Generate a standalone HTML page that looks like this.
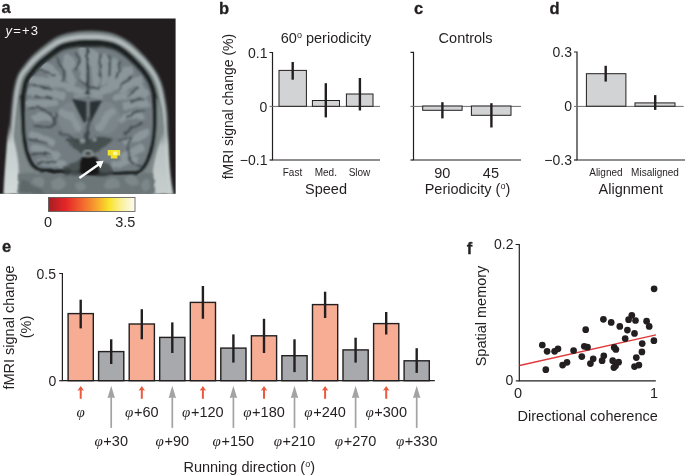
<!DOCTYPE html>
<html><head><meta charset="utf-8"><style>
html,body{margin:0;padding:0;background:#fff;width:685px;height:475px;overflow:hidden}
svg{display:block;will-change:transform}
text{font-family:"Liberation Sans",sans-serif;fill:#231f20}
.lab{font-weight:bold;font-size:16.5px;stroke:#231f20;stroke-width:0.3}
.t14{font-size:14.5px}
.t10{font-size:10px}
.tk{font-size:14px}
.deg{font-size:9px}
.yl{font-size:13px;fill:#f4f4f4}
.phi{font-family:"Liberation Serif",serif;font-style:italic;font-size:15px}
.ax{fill:none;stroke:#231f20;stroke-width:1.2}
.zl{fill:none;stroke:#6d6d6d;stroke-width:1}
.gb{fill:#d1d3d4;stroke:#231f20;stroke-width:1}
.eb2{stroke:#231f20;stroke-width:1.4}
.eb{fill:none;stroke:#231f20;stroke-width:2.4}
</style></head><body>
<svg width="685" height="475" viewBox="0 0 685 475">
<defs><clipPath id="bc"><rect x="0" y="18.6" width="175.6" height="175.1"/></clipPath><filter id="bl" x="-5%" y="-5%" width="110%" height="110%"><feGaussianBlur stdDeviation="0.9"/></filter><filter id="bl2" x="-20%" y="-20%" width="140%" height="140%"><feTurbulence type="fractalNoise" baseFrequency="0.12" numOctaves="2" seed="3" result="t"/><feDisplacementMap in="SourceGraphic" in2="t" scale="5" xChannelSelector="R" yChannelSelector="G" result="d"/><feGaussianBlur in="d" stdDeviation="1.0"/></filter><linearGradient id="cb" x1="0" x2="1"><stop offset="0" stop-color="#a81e22"/><stop offset="0.2" stop-color="#e52528"/><stop offset="0.4" stop-color="#f26a2e"/><stop offset="0.55" stop-color="#f7a12f"/><stop offset="0.7" stop-color="#f9e32a"/><stop offset="0.85" stop-color="#faf1a0"/><stop offset="1" stop-color="#fcfcf4"/></linearGradient></defs><g clip-path="url(#bc)"><rect x="0" y="18" width="176" height="176" fill="#211d1e"/><g filter="url(#bl)"><path d="M3.0 196.0C3.3 191.7 4.2 178.5 5.0 170.0C5.8 161.5 7.2 153.3 8.0 145.0C8.8 136.7 9.3 128.0 10.0 120.0C10.7 112.0 11.4 103.0 12.2 97.0C12.9 91.0 13.6 87.8 14.5 84.0C15.4 80.2 16.2 77.2 17.8 74.0C19.4 70.8 21.6 68.2 24.0 65.0C26.4 61.8 28.7 58.7 32.5 55.0C36.3 51.3 42.6 46.2 47.0 43.0C51.4 39.8 54.3 37.4 59.0 35.5C63.7 33.6 69.8 32.3 75.0 31.5C80.2 30.7 85.0 30.5 90.0 30.5C95.0 30.5 100.3 30.8 105.0 31.5C109.7 32.2 113.8 33.2 118.0 35.0C122.2 36.8 126.3 39.3 130.0 42.0C133.7 44.7 136.7 47.7 140.0 51.0C143.3 54.3 147.0 58.2 150.0 62.0C153.0 65.8 155.8 70.0 158.0 74.0C160.2 78.0 161.7 81.7 163.0 86.0C164.3 90.3 165.2 95.2 166.0 100.0C166.8 104.8 167.5 108.3 168.0 115.0C168.5 121.7 168.7 131.7 169.0 140.0C169.3 148.3 169.5 158.0 170.0 165.0C170.5 172.0 171.2 176.8 172.0 182.0C172.8 187.2 174.5 193.7 175.0 196.0Z" fill="#5c6565"/><path d="M4.6 196.1C4.9 191.8 5.8 178.7 6.6 170.2C7.4 161.7 8.8 153.5 9.6 145.2C10.4 136.8 10.9 128.1 11.6 120.1C12.3 112.1 13.0 103.2 13.8 97.2C14.5 91.2 15.1 88.1 16.1 84.4C17.0 80.6 17.7 77.8 19.2 74.7C20.8 71.6 22.9 69.1 25.3 66.0C27.6 62.9 29.8 59.8 33.6 56.1C37.4 52.5 43.6 47.5 47.9 44.2C52.3 41.0 55.0 38.8 59.6 36.9C64.1 35.0 70.2 33.8 75.2 33.0C80.3 32.2 85.1 32.0 90.0 32.0C94.9 32.0 100.2 32.3 104.8 33.0C109.3 33.7 113.4 34.7 117.4 36.4C121.5 38.1 125.5 40.6 129.1 43.3C132.7 45.9 135.6 48.8 138.9 52.1C142.2 55.4 145.8 59.2 148.8 63.0C151.7 66.8 154.5 70.8 156.6 74.8C158.7 78.7 160.2 82.2 161.5 86.5C162.8 90.7 163.6 95.5 164.4 100.3C165.2 105.0 165.9 108.5 166.4 115.1C166.9 121.8 167.1 131.7 167.4 140.1C167.7 148.4 167.9 158.1 168.4 165.1C168.9 172.1 169.6 177.1 170.4 182.3C171.3 187.5 172.9 194.0 173.4 196.3Z" fill="#7d8787"/><path d="M5.3 196.2C5.6 191.9 6.5 178.7 7.3 170.2C8.1 161.7 9.5 153.6 10.3 145.2C11.1 136.9 11.6 128.2 12.3 120.2C13.0 112.2 13.7 103.2 14.5 97.3C15.2 91.3 15.8 88.3 16.7 84.5C17.6 80.8 18.3 78.0 19.9 75.0C21.4 72.0 23.6 69.6 26.1 66.6C28.5 63.6 30.7 60.6 34.6 57.1C38.4 53.7 44.7 48.7 49.0 45.7C53.3 42.6 55.9 40.6 60.4 38.9C64.8 37.2 70.7 36.1 75.6 35.4C80.6 34.7 85.2 34.8 90.0 34.8C94.8 34.8 99.9 34.8 104.4 35.4C108.8 36.0 112.6 36.8 116.6 38.3C120.5 39.9 124.5 42.2 128.1 44.7C131.6 47.1 134.6 49.9 137.9 53.1C141.2 56.3 144.9 60.0 147.9 63.6C150.9 67.3 153.8 71.3 156.0 75.1C158.1 78.9 159.5 82.5 160.8 86.7C162.1 90.9 162.9 95.6 163.7 100.4C164.6 105.1 165.2 108.6 165.7 115.2C166.2 121.8 166.4 131.8 166.7 140.1C167.0 148.4 167.2 158.1 167.7 165.2C168.2 172.2 168.9 177.1 169.7 182.4C170.6 187.6 172.2 194.1 172.8 196.5L169.7 197.1C169.2 194.8 167.5 188.2 166.7 182.9C165.8 177.6 165.1 172.5 164.6 165.4C164.1 158.3 163.9 148.5 163.6 140.2C163.3 131.9 163.1 122.0 162.6 115.4C162.1 108.9 161.5 105.6 160.7 100.9C159.9 96.3 159.1 91.6 157.8 87.6C156.6 83.5 155.3 80.2 153.3 76.6C151.2 72.9 148.3 69.2 145.3 65.7C142.4 62.2 138.7 58.6 135.4 55.6C132.2 52.6 129.3 49.9 125.9 47.7C122.5 45.4 118.8 43.3 115.1 41.9C111.4 40.6 107.9 39.9 103.7 39.5C99.5 39.0 94.6 39.1 90.0 39.1C85.4 39.1 81.0 38.9 76.3 39.5C71.6 40.0 66.1 40.9 61.9 42.5C57.7 44.0 55.3 45.8 51.1 48.6C47.0 51.5 40.7 56.3 37.0 59.7C33.2 63.0 31.1 65.8 28.7 68.6C26.3 71.4 24.1 73.6 22.6 76.4C21.1 79.2 20.6 81.7 19.7 85.3C18.9 88.8 18.3 91.8 17.6 97.7C16.8 103.5 16.1 112.5 15.4 120.5C14.7 128.4 14.2 137.2 13.4 145.5C12.5 153.9 11.2 162.0 10.4 170.5C9.5 179.0 8.7 192.1 8.4 196.4Z" fill="#b2babb"/><path d="M11.0 196.6C11.3 192.3 12.1 179.3 13.0 170.8C13.8 162.3 15.1 154.1 16.0 145.8C16.8 137.4 17.3 128.7 18.0 120.7C18.7 112.7 19.4 103.8 20.1 98.0C20.9 92.2 21.5 89.3 22.3 85.9C23.1 82.5 23.6 80.2 25.0 77.6C26.3 74.9 28.3 72.8 30.5 70.0C32.7 67.3 34.7 64.4 38.3 61.1C41.9 57.7 48.1 52.8 52.1 49.9C56.1 47.0 58.3 45.2 62.3 43.6C66.4 42.0 71.8 41.0 76.4 40.4C81.0 39.7 85.5 39.7 90.0 39.7C94.5 39.7 99.5 39.8 103.6 40.4C107.7 41.0 111.0 41.7 114.6 43.1C118.2 44.5 121.7 46.7 124.9 49.0C128.2 51.3 131.0 53.9 134.1 56.9C137.2 60.0 140.7 63.6 143.5 67.1C146.4 70.5 149.0 74.3 151.0 77.8C152.9 81.4 154.2 84.4 155.4 88.4C156.5 92.3 157.3 96.8 158.1 101.4C158.9 105.9 159.5 109.1 160.0 115.6C160.5 122.1 160.7 132.0 161.0 140.3C161.3 148.6 161.5 158.4 162.0 165.6C162.5 172.7 163.2 177.9 164.1 183.3C165.0 188.6 166.7 195.3 167.2 197.7L162.5 198.7C162.0 196.2 160.2 189.5 159.4 184.0C158.5 178.6 157.8 173.2 157.2 165.9C156.7 158.7 156.5 148.8 156.2 140.5C155.9 132.2 155.7 122.3 155.2 116.0C154.8 109.6 154.1 106.5 153.4 102.2C152.6 97.8 151.9 93.4 150.8 89.8C149.7 86.1 148.6 83.4 146.7 80.1C144.9 76.8 142.3 73.4 139.6 70.2C136.8 66.9 133.3 63.5 130.3 60.7C127.3 57.9 124.7 55.5 121.7 53.4C118.7 51.4 115.5 49.6 112.3 48.5C109.2 47.3 106.3 46.8 102.6 46.4C98.9 45.9 94.2 46.0 90.0 46.0C85.8 46.0 81.6 45.9 77.4 46.4C73.2 46.9 68.2 47.7 64.5 49.0C60.9 50.3 59.1 51.7 55.4 54.4C51.6 57.0 45.5 61.8 42.0 64.9C38.5 68.0 36.6 70.6 34.5 73.1C32.4 75.6 30.5 77.4 29.2 79.7C28.0 82.0 27.7 83.9 26.9 87.0C26.2 90.2 25.6 92.9 24.9 98.6C24.2 104.3 23.4 113.2 22.8 121.1C22.1 129.1 21.6 137.9 20.7 146.3C19.9 154.6 18.6 162.8 17.7 171.2C16.9 179.7 16.1 192.7 15.8 197.0Z" fill="#1f2323"/><path d="M15.8 197.0C16.1 192.7 16.9 179.7 17.7 171.2C18.6 162.8 19.9 154.6 20.7 146.3C21.6 137.9 22.1 129.1 22.8 121.1C23.4 113.2 24.2 104.3 24.9 98.6C25.6 92.9 26.2 90.2 26.9 87.0C27.7 83.9 28.0 82.0 29.2 79.7C30.5 77.4 32.4 75.6 34.5 73.1C36.6 70.6 38.5 68.0 42.0 64.9C45.5 61.8 51.6 57.0 55.4 54.4C59.1 51.7 60.9 50.3 64.5 49.0C68.2 47.7 73.2 46.9 77.4 46.4C81.6 45.9 85.8 46.0 90.0 46.0C94.2 46.0 98.9 45.9 102.6 46.4C106.3 46.8 109.2 47.3 112.3 48.5C115.5 49.6 118.7 51.4 121.7 53.4C124.7 55.5 127.3 57.9 130.3 60.7C133.3 63.5 136.8 66.9 139.6 70.2C142.3 73.4 144.9 76.8 146.7 80.1C148.6 83.4 149.7 86.1 150.8 89.8C151.9 93.4 152.6 97.8 153.4 102.2C154.1 106.5 154.8 109.6 155.2 116.0C155.7 122.3 155.9 132.2 156.2 140.5C156.5 148.8 156.7 158.7 157.2 165.9C157.8 173.2 158.5 178.6 159.4 184.0C160.2 189.5 162.0 196.2 162.5 198.7L161.3 198.9C160.8 196.5 159.1 189.7 158.2 184.2C157.3 178.7 156.6 173.3 156.0 166.0C155.5 158.7 155.3 148.9 155.0 140.6C154.7 132.2 154.5 122.4 154.0 116.0C153.6 109.7 152.9 106.7 152.2 102.4C151.5 98.1 150.7 93.7 149.6 90.1C148.5 86.5 147.5 83.9 145.7 80.7C143.8 77.5 141.3 74.1 138.5 71.0C135.8 67.8 132.2 64.4 129.3 61.7C126.3 59.0 123.7 56.7 120.7 54.7C117.8 52.8 114.7 51.1 111.7 50.1C108.6 49.0 105.9 48.5 102.3 48.2C98.7 47.9 94.1 48.0 90.0 48.0C85.9 48.0 81.8 47.8 77.7 48.2C73.6 48.6 68.8 49.4 65.2 50.6C61.6 51.9 60.0 53.1 56.3 55.7C52.6 58.2 46.5 62.9 43.0 66.0C39.5 69.0 37.6 71.5 35.5 73.9C33.4 76.3 31.6 78.0 30.3 80.3C29.1 82.5 28.8 84.2 28.1 87.3C27.4 90.4 26.8 93.1 26.1 98.7C25.4 104.4 24.6 113.3 23.9 121.2C23.3 129.2 22.8 138.0 21.9 146.4C21.1 154.8 19.8 162.9 18.9 171.4C18.1 179.8 17.3 192.8 17.0 197.1Z" fill="#3c4447"/><path d="M17.0 197.1C17.3 192.8 18.1 179.8 18.9 171.4C19.8 162.9 21.1 154.8 21.9 146.4C22.8 138.0 23.3 129.2 23.9 121.2C24.6 113.3 25.4 104.4 26.1 98.7C26.8 93.1 27.4 90.4 28.1 87.3C28.8 84.2 29.1 82.5 30.3 80.3C31.6 78.0 33.4 76.3 35.5 73.9C37.6 71.5 39.5 69.0 43.0 66.0C46.5 62.9 52.6 58.2 56.3 55.7C60.0 53.1 61.6 51.9 65.2 50.6C68.8 49.4 73.6 48.6 77.7 48.2C81.8 47.8 85.9 48.0 90.0 48.0C94.1 48.0 98.7 47.9 102.3 48.2C105.9 48.5 108.6 49.0 111.7 50.1C114.7 51.1 117.8 52.8 120.7 54.7C123.7 56.7 126.3 59.0 129.3 61.7C132.2 64.4 135.8 67.8 138.5 71.0C141.3 74.1 143.8 77.5 145.7 80.7C147.5 83.9 148.5 86.5 149.6 90.1C150.7 93.7 151.5 98.1 152.2 102.4C152.9 106.7 153.6 109.7 154.0 116.0C154.5 122.4 154.7 132.2 155.0 140.6C155.3 148.9 155.5 158.7 156.0 166.0C156.6 173.3 157.3 178.7 158.2 184.2C159.1 189.7 160.8 196.5 161.3 198.9Z" fill="#727c81"/><ellipse cx="72" cy="118" rx="14" ry="16" fill="#7c868a"/><ellipse cx="106" cy="118" rx="14" ry="16" fill="#7c868a"/></g><clipPath id="brc"><path d="M16.5 197.0C16.8 192.7 17.6 179.8 18.4 171.3C19.3 162.9 20.6 154.7 21.4 146.3C22.3 138.0 22.8 129.1 23.4 121.2C24.1 113.2 24.9 104.3 25.6 98.7C26.3 93.0 26.9 90.3 27.6 87.2C28.3 84.1 28.6 82.3 29.9 80.0C31.1 77.8 33.0 76.0 35.1 73.6C37.3 71.2 39.2 68.7 42.6 65.6C46.1 62.5 52.3 57.9 56.0 55.3C59.8 52.7 61.4 51.4 65.0 50.1C68.6 48.9 73.4 48.1 77.6 47.7C81.8 47.3 85.9 47.5 90.0 47.5C94.1 47.5 98.8 47.4 102.4 47.7C106.0 48.1 108.8 48.5 111.9 49.6C115.0 50.7 118.1 52.4 121.0 54.3C124.0 56.3 126.6 58.6 129.6 61.4C132.6 64.1 136.2 67.5 138.9 70.7C141.7 73.9 144.3 77.2 146.1 80.4C148.0 83.6 149.0 86.3 150.1 90.0C151.2 93.6 152.0 98.0 152.7 102.3C153.4 106.6 154.1 109.6 154.5 116.0C155.0 122.4 155.2 132.2 155.5 140.5C155.8 148.9 156.0 158.7 156.5 166.0C157.1 173.2 157.8 178.7 158.7 184.1C159.5 189.6 161.3 196.4 161.8 198.8Z"/></clipPath><g clip-path="url(#brc)"><g filter="url(#bl2)" fill="none" stroke-linecap="round" stroke-linejoin="round"><path d="M40.0 80.0C42.5 80.5 50.0 81.7 55.0 83.0C60.0 84.3 65.5 86.5 70.0 88.0C74.5 89.5 80.0 91.3 82.0 92.0" stroke="#8b969b" stroke-width="7"/><path d="M136.0 80.0C133.3 80.7 125.0 82.3 120.0 84.0C115.0 85.7 110.3 88.5 106.0 90.0C101.7 91.5 96.0 92.5 94.0 93.0" stroke="#8b969b" stroke-width="7"/><path d="M67.0 58.0C67.3 59.3 68.5 63.3 69.0 66.0C69.5 68.7 69.5 71.0 70.0 74.0C70.5 77.0 71.7 82.3 72.0 84.0" stroke="#8b969b" stroke-width="7"/><path d="M105.0 58.0C105.0 60.0 105.2 66.0 105.0 70.0C104.8 74.0 104.2 80.0 104.0 82.0" stroke="#8b969b" stroke-width="7"/><path d="M90.0 52.0C90.5 53.7 92.2 58.7 93.0 62.0C93.8 65.3 94.5 68.2 95.0 72.0C95.5 75.8 95.8 82.8 96.0 85.0" stroke="#8b969b" stroke-width="7"/><path d="M115.0 62.0C114.7 63.8 113.7 69.3 113.0 73.0C112.3 76.7 111.3 82.2 111.0 84.0" stroke="#8b969b" stroke-width="7"/><path d="M48.0 66.0C49.7 68.0 56.3 76.0 58.0 78.0" stroke="#8b969b" stroke-width="7"/><path d="M126.0 70.0C124.7 72.0 119.3 80.0 118.0 82.0" stroke="#8b969b" stroke-width="7"/><path d="M35.0 92.0C37.5 92.3 45.5 93.3 50.0 94.0C54.5 94.7 60.0 95.7 62.0 96.0" stroke="#8b969b" stroke-width="7"/><path d="M145.0 92.0C142.5 92.5 134.8 94.0 130.0 95.0C125.2 96.0 118.3 97.5 116.0 98.0" stroke="#8b969b" stroke-width="7"/><path d="M35.0 118.0C36.7 117.7 42.2 116.0 45.0 116.0C47.8 116.0 50.8 117.7 52.0 118.0" stroke="#8b969b" stroke-width="7"/><path d="M140.0 116.0C138.3 116.0 133.0 115.3 130.0 116.0C127.0 116.7 123.3 119.3 122.0 120.0" stroke="#8b969b" stroke-width="7"/><path d="M62.0 112.0C63.7 113.0 69.3 115.3 72.0 118.0C74.7 120.7 77.0 126.3 78.0 128.0" stroke="#8b969b" stroke-width="7"/><path d="M112.0 112.0C110.7 113.3 106.0 117.3 104.0 120.0C102.0 122.7 100.7 126.7 100.0 128.0" stroke="#8b969b" stroke-width="7"/><path d="M32.0 135.0C33.7 135.5 38.7 136.8 42.0 138.0C45.3 139.2 50.3 141.3 52.0 142.0" stroke="#8b969b" stroke-width="7"/><path d="M34.0 148.0C35.7 148.3 40.3 148.7 44.0 150.0C47.7 151.3 54.0 155.0 56.0 156.0" stroke="#8b969b" stroke-width="7"/><path d="M42.0 162.0C43.7 162.0 48.7 161.7 52.0 162.0C55.3 162.3 60.3 163.7 62.0 164.0" stroke="#8b969b" stroke-width="7"/><path d="M146.0 133.0C144.3 133.8 139.3 136.5 136.0 138.0C132.7 139.5 127.7 141.3 126.0 142.0" stroke="#8b969b" stroke-width="7"/><path d="M140.0 148.0C139.0 148.7 136.7 150.7 134.0 152.0C131.3 153.3 125.7 155.3 124.0 156.0" stroke="#8b969b" stroke-width="7"/><path d="M135.0 160.0C133.3 160.3 128.3 161.3 125.0 162.0C121.7 162.7 116.7 163.7 115.0 164.0" stroke="#8b969b" stroke-width="7"/><path d="M82.0 50.0C82.2 52.5 82.8 60.0 83.0 65.0C83.2 70.0 83.0 77.5 83.0 80.0" stroke="#8b969b" stroke-width="7"/><path d="M55.0 80.0C54.0 78.3 50.8 72.8 49.0 70.0C47.2 67.2 44.8 64.2 44.0 63.0" stroke="#8b969b" stroke-width="7"/><path d="M55.0 84.0C52.8 83.5 46.2 81.8 42.0 81.0C37.8 80.2 32.0 79.3 30.0 79.0" stroke="#8b969b" stroke-width="7"/><path d="M55.0 93.0C52.8 92.8 46.2 92.3 42.0 92.0C37.8 91.7 32.0 91.2 30.0 91.0" stroke="#8b969b" stroke-width="7"/><path d="M55.0 103.0C52.8 103.0 46.2 102.8 42.0 103.0C37.8 103.2 32.0 103.8 30.0 104.0" stroke="#8b969b" stroke-width="7"/><path d="M140.0 80.0C138.5 80.8 134.0 83.3 131.0 85.0C128.0 86.7 123.5 89.2 122.0 90.0" stroke="#8b969b" stroke-width="7"/><path d="M146.0 104.0C144.3 104.0 139.3 103.7 136.0 104.0C132.7 104.3 127.7 105.7 126.0 106.0" stroke="#8b969b" stroke-width="7"/><ellipse cx="69" cy="64" rx="6.5" ry="8" transform="rotate(15 69 64)" fill="#8b969b" stroke="none"/><ellipse cx="46" cy="67" rx="6" ry="4" transform="rotate(-35 46 67)" fill="#8b969b" stroke="none"/><ellipse cx="38" cy="81" rx="6" ry="3.5" transform="rotate(-15 38 81)" fill="#8b969b" stroke="none"/><ellipse cx="36" cy="93" rx="6" ry="3" transform="rotate(-5 36 93)" fill="#8b969b" stroke="none"/><ellipse cx="94" cy="58" rx="4.5" ry="8" transform="rotate(0 94 58)" fill="#8b969b" stroke="none"/><ellipse cx="105" cy="61" rx="3.5" ry="8" transform="rotate(0 105 61)" fill="#8b969b" stroke="none"/><ellipse cx="115" cy="66" rx="4" ry="8" transform="rotate(10 115 66)" fill="#8b969b" stroke="none"/><ellipse cx="128" cy="73" rx="5" ry="6" transform="rotate(35 128 73)" fill="#8b969b" stroke="none"/><ellipse cx="139" cy="87" rx="5" ry="4" transform="rotate(20 139 87)" fill="#8b969b" stroke="none"/><ellipse cx="143" cy="100" rx="5" ry="3" transform="rotate(5 143 100)" fill="#8b969b" stroke="none"/><ellipse cx="82" cy="56" rx="3.5" ry="7" transform="rotate(0 82 56)" fill="#8b969b" stroke="none"/><path d="M56.8 57.7C57.3 58.8 58.7 62.3 59.8 64.3C60.9 66.3 62.8 67.4 63.5 69.5C64.2 71.6 64.3 75.0 64.2 76.8C64.1 78.6 63.0 79.9 62.7 80.5" stroke="#464f53" stroke-width="2.2"/><path d="M76.0 53.3C76.5 54.8 78.9 59.3 79.0 62.0C79.1 64.7 77.1 68.2 76.7 69.5" stroke="#464f53" stroke-width="2.2"/><path d="M36.2 69.5C37.9 69.9 43.5 70.7 46.5 71.7C49.5 72.7 52.7 74.8 53.9 75.4" stroke="#464f53" stroke-width="2.2"/><path d="M31.8 85.7C33.5 86.0 38.9 86.7 42.1 87.2C45.3 87.7 49.5 88.4 51.0 88.6" stroke="#464f53" stroke-width="2.2"/><path d="M36.2 96.0C37.9 96.2 43.9 97.0 46.5 97.5C49.1 98.0 50.8 98.8 51.7 99.0" stroke="#464f53" stroke-width="2.2"/><path d="M79.0 79.8C80.0 80.5 83.8 83.5 84.8 84.2" stroke="#464f53" stroke-width="2.2"/><path d="M99.7 54.7C100.0 56.9 101.2 64.5 101.2 68.0C101.2 71.5 100.0 74.2 99.7 75.4" stroke="#464f53" stroke-width="2.2"/><path d="M109.3 56.2C109.4 57.8 110.0 62.8 110.0 66.0C110.0 69.2 109.4 73.8 109.3 75.4" stroke="#464f53" stroke-width="2.2"/><path d="M120.4 62.1C120.0 63.4 118.6 67.3 118.0 70.0C117.4 72.7 116.9 76.9 116.7 78.3" stroke="#464f53" stroke-width="2.2"/><path d="M132.2 76.8C131.0 77.7 127.2 80.0 125.0 82.0C122.8 84.0 119.9 87.5 118.9 88.6" stroke="#464f53" stroke-width="2.2"/><path d="M138.0 88.6C137.2 89.2 134.7 90.8 133.0 92.0C131.3 93.2 128.6 95.3 127.7 96.0" stroke="#464f53" stroke-width="2.2"/><path d="M144.0 99.0C142.8 99.2 139.2 99.5 137.0 100.0C134.8 100.5 131.8 101.6 130.7 101.9" stroke="#464f53" stroke-width="2.2"/><path d="M89.4 87.2C90.3 87.3 93.3 87.8 95.0 88.0C96.7 88.2 98.9 88.5 99.7 88.6" stroke="#464f53" stroke-width="2.2"/><path d="M34.7 125.6C36.2 125.8 40.8 127.0 44.0 127.0C47.2 127.0 51.8 127.8 53.9 125.6C56.0 123.4 56.3 115.8 56.8 113.8" stroke="#464f53" stroke-width="2.2"/><path d="M45.0 111.0C45.8 111.5 48.3 112.3 50.0 114.0C51.7 115.7 54.2 119.8 55.0 121.0" stroke="#464f53" stroke-width="2.2"/><path d="M59.8 133.0C61.5 133.7 66.3 135.5 70.0 137.0C73.7 138.5 79.9 141.0 81.9 141.8" stroke="#464f53" stroke-width="2.2"/><path d="M28.8 138.9C30.3 139.2 35.0 140.3 38.0 141.0C41.0 141.7 45.1 142.9 46.5 143.3" stroke="#464f53" stroke-width="2.2"/><path d="M31.8 153.6C33.2 153.5 37.0 153.0 40.0 153.0C43.0 153.0 47.9 153.5 49.5 153.6" stroke="#464f53" stroke-width="2.2"/><path d="M39.2 164.0C40.7 163.7 45.1 162.5 48.0 162.0C50.9 161.5 55.3 161.2 56.8 161.0" stroke="#464f53" stroke-width="2.2"/><path d="M123.9 134.5C124.9 133.6 127.8 130.5 130.0 129.0C132.2 127.5 135.2 126.6 137.2 125.6C139.2 124.6 141.2 123.4 142.0 123.0" stroke="#464f53" stroke-width="2.2"/><path d="M131.3 137.4C130.9 139.4 129.0 145.3 129.0 149.2C129.0 153.1 129.2 158.1 131.3 161.0C133.4 163.9 139.9 165.9 141.6 166.9" stroke="#464f53" stroke-width="2.2"/><path d="M118.0 140.0C119.2 139.7 122.8 138.5 125.0 138.0C127.2 137.5 130.0 137.2 131.0 137.0" stroke="#464f53" stroke-width="2.2"/><path d="M143.0 110.0C141.7 110.5 137.8 111.7 135.0 113.0C132.2 114.3 127.5 117.2 126.0 118.0" stroke="#464f53" stroke-width="2.2"/><path d="M30.0 108.0C31.7 108.0 37.3 107.3 40.0 108.0C42.7 108.7 45.0 111.3 46.0 112.0" stroke="#464f53" stroke-width="2.2"/><path d="M87.6 45V96" stroke="#30383a" stroke-width="2.2"/><path d="M88.3 118V145" stroke="#3a4244" stroke-width="1.8"/><path d="M24 140C26 155 29 165 36 169.5S55 170 73 171S88 174 95 174S125 172 139 174S148 165 152 150" stroke="#252b2c" stroke-width="2.6"/></g></g><g filter="url(#bl)"><path d="M19.5 96L21.8 103L22.5 115L23.5 134L25.5 148L28.5 158L33 166L40 170L40 194L8.5 194L12 160L15 130L17.5 108Z" fill="#7d8787"/><path d="M157 96L154.5 103L155 115L154.8 127L153.5 140L151.5 150L148 160L144 167L138 173L138 194L170 194L165 160L164 130L161.5 108Z" fill="#7d8787"/><path d="M21.6 96.0C21.8 99.2 22.2 108.7 22.5 115.0C22.8 121.3 23.0 128.5 23.5 134.0C24.0 139.5 24.7 144.0 25.5 148.0C26.3 152.0 27.2 155.0 28.5 158.0C29.8 161.0 31.1 164.0 33.0 166.0C34.9 168.0 36.3 169.1 40.0 170.0C43.7 170.9 50.0 170.9 55.0 171.3C60.0 171.7 67.5 172.3 70.0 172.5" stroke="#1f2323" stroke-width="3.6" fill="none"/><path d="M154.8 96.0C154.8 99.2 155.0 109.8 155.0 115.0C155.0 120.2 155.1 122.8 154.8 127.0C154.6 131.2 154.1 136.2 153.5 140.0C152.9 143.8 152.4 146.7 151.5 150.0C150.6 153.3 149.2 157.2 148.0 160.0C146.8 162.8 145.7 164.9 144.0 167.0C142.3 169.1 141.2 171.4 138.0 172.5C134.8 173.6 129.7 173.2 125.0 173.5C120.3 173.8 112.5 174.3 110.0 174.5" stroke="#1f2323" stroke-width="3.6" fill="none"/></g><g filter="url(#bl)"><path d="M72 98.7L86.5 101.7L86.5 121L84 123Z" fill="#2b3234"/><path d="M102 100.2L89.8 101.7L89.8 121L91 121.6Z" fill="#2b3234"/><path d="M74 96.5Q88 94 103 98" stroke="#8d989c" stroke-width="2.5" fill="none"/><defs><linearGradient id="lsg" x1="0" y1="0" x2="0" y2="1"><stop offset="0" stop-color="#a8b0b0" stop-opacity="0"/><stop offset="0.3" stop-color="#c4cccc"/><stop offset="1" stop-color="#d4dada"/></linearGradient></defs><path d="M9 122C13 135 17 150 18.5 165C19 178 19 186 19 194L4 194C4.5 178 6 155 7.5 135Z" fill="url(#lsg)"/><path d="M166 126C160 140 155 155 153 170L152 194L172 194C170 178 168.5 160 168 140Z" fill="url(#lsg)" opacity="0.85"/></g><g filter="url(#bl2)"><path d="M18 174C30 172 45 173 60 174S90 177 100 176S130 175 150 173L154 172L154 194L18 194Z" fill="#6c7678"/><ellipse cx="38" cy="183" rx="7" ry="5" fill="#7d878a"/><ellipse cx="58" cy="184" rx="8" ry="6" fill="#7d878a"/><ellipse cx="80" cy="186" rx="6" ry="4" fill="#7d878a"/><ellipse cx="112" cy="184" rx="8" ry="5" fill="#7d878a"/><ellipse cx="132" cy="181" rx="7" ry="5" fill="#7d878a"/><ellipse cx="146" cy="186" rx="5" ry="5" fill="#7d878a"/><path d="M20 180C30 182 40 185 45 194L20 194Z" fill="#555d5f" opacity="0.6"/><path d="M65 139C70 137 78 137 84 139L87.8 126L89 139C95 136 105 136 113 139C110 144 104 146 100 150C96 153 92 155 88 155C84 155 80 153 77 150C73 146 68 144 65 139Z" fill="#333a3c" opacity="0.7"/><circle cx="82.7" cy="140.8" r="2.2" fill="#8e979a"/><circle cx="94.1" cy="140.2" r="2.2" fill="#8e979a"/><path d="M64 167L80 160L80 176L64 176Z" fill="#3b4244" opacity="0.7"/><path d="M97 160L113 167L113 176L97 176Z" fill="#3b4244" opacity="0.7"/></g><g filter="url(#bl)"><path d="M80.5 174C79.5 168 79.5 163 80.5 160C82 156.5 85 155.5 89 155.5C93 155.5 97 157 98 160C99 165 99.5 170 98.5 174C93 175.5 86 175.5 80.5 174Z" fill="#181414"/><ellipse cx="88" cy="153.3" rx="4.4" ry="2.8" fill="#3a4244" stroke="#a4acac" stroke-width="1.4"/></g><defs><filter id="bl3" x="-20%" y="-20%" width="140%" height="140%"><feGaussianBlur stdDeviation="0.45"/></filter></defs><g filter="url(#bl3)"><path d="M107.7 150H120.2V155.6H117.4V158.5H110.8V155.6H107.7Z" fill="#f1e025"/><rect x="113" y="151.5" width="4.4" height="3.6" fill="#fbf3a6"/></g><path d="M79.4 177.9L99 164.3" stroke="#fbfbfb" stroke-width="2.4"/><path d="M103.6 160.8L95.6 161.6L100.6 168.4Z" fill="#fbfbfb"/><text x="5.6" y="34.8" class="yl" letter-spacing="1.15"><tspan font-style="italic">y</tspan>=+3</text></g><rect x="48.5" y="197.4" width="86.5" height="14" fill="url(#cb)" stroke="#555" stroke-width="0.8"/><text x="48" y="226.5" class="t14" text-anchor="middle">0</text><text x="135.3" y="226.5" class="t14" text-anchor="end">3.5</text>
<text x="1.5" y="13.2" class="lab">a</text><text x="219" y="14" class="lab">b</text><text x="414" y="13.6" class="lab">c</text><text x="549.6" y="13.9" class="lab">d</text><text x="2" y="251.8" class="lab">e</text><text x="466.7" y="253.5" class="lab">f</text><path d="M269.5 52.5H272.5V160H380" class="ax"/><path d="M269.5 160H272.5" class="ax"/><path d="M269.5 106.4H380" class="zl"/><rect x="279" y="70.4" width="27.4" height="35.9" class="gb"/><rect x="312.4" y="100.5" width="27.1" height="5.8" class="gb"/><rect x="346.4" y="94" width="26.6" height="12.3" class="gb"/><path d="M292.7 62V79.7" class="eb"/><path d="M325.8 83.2V117.4" class="eb"/><path d="M359.9 78V110.5" class="eb"/><text x="267.5" y="57.5" class="tk" text-anchor="end">0.1</text><text x="267.3" y="111.7" class="tk" text-anchor="end">0</text><text x="267.5" y="165" class="tk" text-anchor="end">−0.1</text><text x="326" y="42.7" class="t14" text-anchor="middle">60<tspan class="deg" dy="-5">o</tspan><tspan dy="5"> periodicity</tspan></text><text x="292.5" y="176" class="t10" text-anchor="middle">Fast</text><text x="325.8" y="176" class="t10" text-anchor="middle">Med.</text><text x="359.5" y="176" class="t10" text-anchor="middle">Slow</text><text x="326" y="194.2" class="t14" text-anchor="middle">Speed</text><text transform="translate(232.7 106.6) rotate(-90)" class="t14" style="font-size:14px" text-anchor="middle">fMRI signal change (%)</text><path d="M410.5 52.3H413.5V160H521" class="ax"/><path d="M410.5 160H413.5" class="ax"/><path d="M410.5 106.4H521" class="zl"/><rect x="422.7" y="106" width="39.4" height="4.3" class="gb"/><rect x="471.4" y="106" width="39.6" height="9.3" class="gb"/><path d="M442.4 102.2V118.4" class="eb"/><path d="M491.4 103.2V127.5" class="eb"/><text x="465.6" y="42.7" class="t14" text-anchor="middle">Controls</text><text x="442.3" y="177.7" class="t14" text-anchor="middle">90</text><text x="490.9" y="177.7" class="t14" text-anchor="middle">45</text><text x="467.5" y="193.6" class="t14" text-anchor="middle">Periodicity (<tspan class="deg" dy="-5">o</tspan><tspan dy="5">)</tspan></text><path d="M574 52H577V160H685" class="ax"/><path d="M574 160H577" class="ax"/><path d="M574 106.4H683.7" class="zl"/><rect x="586.4" y="73.7" width="39.5" height="32.5" class="gb"/><rect x="635" y="102.9" width="40" height="3.3" class="gb"/><path d="M605.7 65.8V81.6" class="eb"/><path d="M655.2 95.1V109.9" class="eb"/><text x="572" y="57.2" class="tk" text-anchor="end">0.3</text><text x="572" y="111" class="tk" text-anchor="end">0</text><text x="572" y="165" class="tk" text-anchor="end">−0.3</text><text x="605.9" y="176" class="t10" text-anchor="middle">Aligned</text><text x="655" y="176" class="t10" text-anchor="middle">Misaligned</text><text x="630.8" y="193.7" class="t14" text-anchor="middle">Alignment</text><path d="M59.2 273.5H62.4V380.7H434.8" class="ax"/><path d="M59.2 380.7H62.4" class="ax"/><text x="56" y="279" class="tk" text-anchor="end">0.5</text><text x="56.2" y="385.5" class="tk" text-anchor="end">0</text><rect x="68.1" y="313.6" width="25.2" height="67.1" fill="#f7ad94" class="eb2"/><path d="M80.7 299.7V328.4" class="eb"/><path d="M80.7 398.8V389" stroke="#ea5a3d" stroke-width="2" fill="none"/><path d="M77.4 390.8L80.7 386L84.0 390.8Q80.7 389.4 77.4 390.8Z" fill="#ea5a3d"/><text x="80.7" y="416.8" class="t14" text-anchor="middle"><tspan class="phi">φ</tspan><tspan dx="0.6"></tspan></text><rect x="98.6" y="351.6" width="25.2" height="29.1" fill="#a7a9ac" class="eb2"/><path d="M111.2 339.3V364" class="eb"/><path d="M111.2 427.9V395" stroke="#a3a3a3" stroke-width="1.7" fill="none"/><path d="M107.5 398L111.2 385.8L114.9 398Q111.2 397 107.5 398Z" fill="#a3a3a3"/><text x="111.2" y="446" class="t14" text-anchor="middle"><tspan class="phi">φ</tspan><tspan dx="0.6">+30</tspan></text><rect x="129.2" y="324" width="25.2" height="56.7" fill="#f7ad94" class="eb2"/><path d="M141.8 309.2V339.3" class="eb"/><path d="M141.8 398.8V389" stroke="#ea5a3d" stroke-width="2" fill="none"/><path d="M138.5 390.8L141.8 386L145.1 390.8Q141.8 389.4 138.5 390.8Z" fill="#ea5a3d"/><text x="141.8" y="416.8" class="t14" text-anchor="middle"><tspan class="phi">φ</tspan><tspan dx="0.6">+60</tspan></text><rect x="159.7" y="337.4" width="25.2" height="43.3" fill="#a7a9ac" class="eb2"/><path d="M172.3 322.4V353" class="eb"/><path d="M172.3 427.9V395" stroke="#a3a3a3" stroke-width="1.7" fill="none"/><path d="M168.6 398L172.3 385.8L176.0 398Q172.3 397 168.6 398Z" fill="#a3a3a3"/><text x="172.3" y="446" class="t14" text-anchor="middle"><tspan class="phi">φ</tspan><tspan dx="0.6">+90</tspan></text><rect x="190.3" y="302.4" width="25.2" height="78.3" fill="#f7ad94" class="eb2"/><path d="M202.9 286V318.8" class="eb"/><path d="M202.9 398.8V389" stroke="#ea5a3d" stroke-width="2" fill="none"/><path d="M199.6 390.8L202.9 386L206.2 390.8Q202.9 389.4 199.6 390.8Z" fill="#ea5a3d"/><text x="202.9" y="416.8" class="t14" text-anchor="middle"><tspan class="phi">φ</tspan><tspan dx="0.6">+120</tspan></text><rect x="220.8" y="348.1" width="25.2" height="32.6" fill="#a7a9ac" class="eb2"/><path d="M233.4 334.4V362.6" class="eb"/><path d="M233.4 427.9V395" stroke="#a3a3a3" stroke-width="1.7" fill="none"/><path d="M229.7 398L233.4 385.8L237.1 398Q233.4 397 229.7 398Z" fill="#a3a3a3"/><text x="233.4" y="446" class="t14" text-anchor="middle"><tspan class="phi">φ</tspan><tspan dx="0.6">+150</tspan></text><rect x="251.4" y="335.8" width="25.2" height="44.9" fill="#f7ad94" class="eb2"/><path d="M264.0 318.8V353" class="eb"/><path d="M264.0 398.8V389" stroke="#ea5a3d" stroke-width="2" fill="none"/><path d="M260.7 390.8L264.0 386L267.3 390.8Q264.0 389.4 260.7 390.8Z" fill="#ea5a3d"/><text x="264.0" y="416.8" class="t14" text-anchor="middle"><tspan class="phi">φ</tspan><tspan dx="0.6">+180</tspan></text><rect x="281.9" y="355.7" width="25.2" height="25.0" fill="#a7a9ac" class="eb2"/><path d="M294.5 339.3V372.1" class="eb"/><path d="M294.5 427.9V395" stroke="#a3a3a3" stroke-width="1.7" fill="none"/><path d="M290.8 398L294.5 385.8L298.2 398Q294.5 397 290.8 398Z" fill="#a3a3a3"/><text x="294.5" y="446" class="t14" text-anchor="middle"><tspan class="phi">φ</tspan><tspan dx="0.6">+210</tspan></text><rect x="312.5" y="304.6" width="25.2" height="76.1" fill="#f7ad94" class="eb2"/><path d="M325.1 291.7V318" class="eb"/><path d="M325.1 398.8V389" stroke="#ea5a3d" stroke-width="2" fill="none"/><path d="M321.8 390.8L325.1 386L328.4 390.8Q325.1 389.4 321.8 390.8Z" fill="#ea5a3d"/><text x="325.1" y="416.8" class="t14" text-anchor="middle"><tspan class="phi">φ</tspan><tspan dx="0.6">+240</tspan></text><rect x="343.0" y="349.9" width="25.2" height="30.8" fill="#a7a9ac" class="eb2"/><path d="M355.6 337.7V362.6" class="eb"/><path d="M355.6 427.9V395" stroke="#a3a3a3" stroke-width="1.7" fill="none"/><path d="M351.9 398L355.6 385.8L359.3 398Q355.6 397 351.9 398Z" fill="#a3a3a3"/><text x="355.6" y="446" class="t14" text-anchor="middle"><tspan class="phi">φ</tspan><tspan dx="0.6">+270</tspan></text><rect x="373.6" y="323.6" width="25.2" height="57.1" fill="#f7ad94" class="eb2"/><path d="M386.2 312V334.5" class="eb"/><path d="M386.2 398.8V389" stroke="#ea5a3d" stroke-width="2" fill="none"/><path d="M382.9 390.8L386.2 386L389.5 390.8Q386.2 389.4 382.9 390.8Z" fill="#ea5a3d"/><text x="386.2" y="416.8" class="t14" text-anchor="middle"><tspan class="phi">φ</tspan><tspan dx="0.6">+300</tspan></text><rect x="404.1" y="360.8" width="25.2" height="19.9" fill="#a7a9ac" class="eb2"/><path d="M416.7 348.2V372.9" class="eb"/><path d="M416.7 427.9V395" stroke="#a3a3a3" stroke-width="1.7" fill="none"/><path d="M413.0 398L416.7 385.8L420.4 398Q416.7 397 413.0 398Z" fill="#a3a3a3"/><text x="416.7" y="446" class="t14" text-anchor="middle"><tspan class="phi">φ</tspan><tspan dx="0.6">+330</tspan></text><text x="249.2" y="472" class="t14" text-anchor="middle">Running direction (<tspan class="deg" dy="-5">o</tspan><tspan dy="5">)</tspan></text><text transform="translate(14.2 327.5) rotate(-90)" class="t14" text-anchor="middle">fMRI signal change</text><text transform="translate(31 327) rotate(-90)" class="t14" text-anchor="middle">(%)</text><path d="M515.6 244.5H519.3V380.9H655.8" class="ax"/><path d="M515.8 380.9H519.3" class="ax"/><text x="513.5" y="249" class="tk" text-anchor="end">0.2</text><text x="513.3" y="385.3" class="tk" text-anchor="end">0</text><text x="518" y="397.5" class="t14" text-anchor="middle">0</text><text x="654" y="397.5" class="t14" text-anchor="middle">1</text><text x="587.7" y="420.5" class="t14" text-anchor="middle">Directional coherence</text><text transform="translate(486 316) rotate(-90)" class="t14" text-anchor="middle">Spatial memory</text><path d="M519.6 365.5L656 334.8" stroke="#e0383a" stroke-width="1.3"/><circle cx="542.3" cy="345" r="3.35" fill="#231f20"/><circle cx="547.1" cy="351.3" r="3.35" fill="#231f20"/><circle cx="554.6" cy="351.3" r="3.35" fill="#231f20"/><circle cx="558" cy="348.8" r="3.35" fill="#231f20"/><circle cx="545.8" cy="369.7" r="3.35" fill="#231f20"/><circle cx="562.6" cy="365.1" r="3.35" fill="#231f20"/><circle cx="567" cy="362.3" r="3.35" fill="#231f20"/><circle cx="573.6" cy="350.6" r="3.35" fill="#231f20"/><circle cx="585.7" cy="329.7" r="3.35" fill="#231f20"/><circle cx="584.3" cy="346.3" r="3.35" fill="#231f20"/><circle cx="587.5" cy="347.2" r="3.35" fill="#231f20"/><circle cx="581.8" cy="356.6" r="3.35" fill="#231f20"/><circle cx="590.4" cy="363.6" r="3.35" fill="#231f20"/><circle cx="593.2" cy="358.8" r="3.35" fill="#231f20"/><circle cx="603.4" cy="319.3" r="3.35" fill="#231f20"/><circle cx="611.2" cy="322.4" r="3.35" fill="#231f20"/><circle cx="619.8" cy="326.4" r="3.35" fill="#231f20"/><circle cx="627.4" cy="330.1" r="3.35" fill="#231f20"/><circle cx="634.5" cy="333.4" r="3.35" fill="#231f20"/><circle cx="625.2" cy="338.6" r="3.35" fill="#231f20"/><circle cx="631.8" cy="315.3" r="3.35" fill="#231f20"/><circle cx="628.6" cy="319.7" r="3.35" fill="#231f20"/><circle cx="635.5" cy="320.5" r="3.35" fill="#231f20"/><circle cx="646.6" cy="321.2" r="3.35" fill="#231f20"/><circle cx="649.2" cy="326.4" r="3.35" fill="#231f20"/><circle cx="653.9" cy="340.7" r="3.35" fill="#231f20"/><circle cx="642.2" cy="343.6" r="3.35" fill="#231f20"/><circle cx="641.9" cy="351.9" r="3.35" fill="#231f20"/><circle cx="636.3" cy="357.6" r="3.35" fill="#231f20"/><circle cx="634.5" cy="366.6" r="3.35" fill="#231f20"/><circle cx="638.9" cy="365.1" r="3.35" fill="#231f20"/><circle cx="614.2" cy="347.4" r="3.35" fill="#231f20"/><circle cx="615.9" cy="349.5" r="3.35" fill="#231f20"/><circle cx="603.8" cy="355.8" r="3.35" fill="#231f20"/><circle cx="602.1" cy="360.7" r="3.35" fill="#231f20"/><circle cx="612.7" cy="360.7" r="3.35" fill="#231f20"/><circle cx="618.6" cy="362.2" r="3.35" fill="#231f20"/><circle cx="613.9" cy="367.6" r="3.35" fill="#231f20"/><circle cx="615.6" cy="365.7" r="3.35" fill="#231f20"/><circle cx="654.1" cy="288.8" r="3.35" fill="#231f20"/>
</svg>
</body></html>
